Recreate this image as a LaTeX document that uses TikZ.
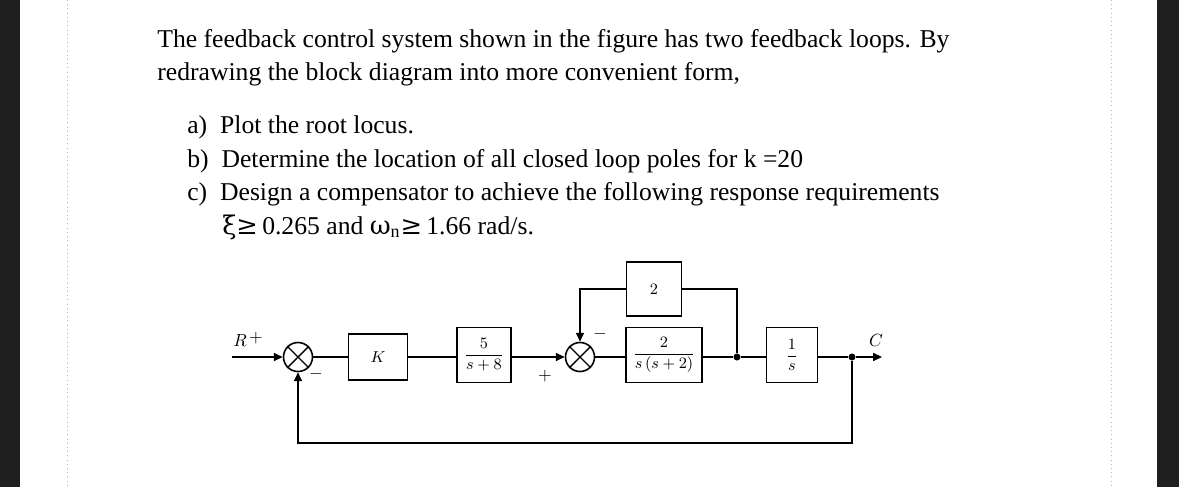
\documentclass[tikz,border=0pt]{standalone}
\usepackage{fontspec}
\setmainfont{Liberation Serif}
\newfontfamily\symf{DejaVu Serif}
\usetikzlibrary{arrows.meta}
\begin{document}
\begin{tikzpicture}[x=0.02cm,y=-0.02cm,
  txt/.style={anchor=base west,inner sep=0pt,font=\fontsize{14.6}{17}\selectfont},
  blk/.style={draw,line width=0.9pt,inner sep=0pt,font=\fontsize{9.5}{11}\selectfont},
  sumj/.style={draw,circle,line width=0.9pt,minimum size=0.58cm,inner sep=0pt},
  wire/.style={line width=0.8pt},
  arr/.style={wire,-{Triangle[length=5pt,width=4.5pt]}},
  lbl/.style={font=\fontsize{10}{11}\selectfont,inner sep=0pt},
  dotn/.style={circle,fill,inner sep=0pt,minimum size=4pt}]
\useasboundingbox (0,0) rectangle (1179,487);
\fill[black!88] (0,0) rectangle (20,487);
\fill[black!88] (1157,0) rectangle (1179,487);
\draw[black!30,dotted] (67,0) -- (67,487);
\draw[black!30,dotted] (1111,0) -- (1111,487);
% text
\node[txt] (t1) at (157,47) {The feedback control system shown in the figure has two feedback loops. By};
\node[txt] (t2) at (157,80) {redrawing the block diagram into more convenient form,};
\node[txt] (t3) at (187,133) {a)\ \ Plot the root locus.};
\node[txt] (t4) at (187,167) {b)\ \ Determine the location of all closed loop poles for k =20};
\node[txt] (t5) at (187,200) {c)\ \ Design a compensator to achieve the following response requirements};
\node[txt] (t6) at (222,234) {{\symf ξ}{\symf ≥}\,0.265 and {\symf ω}\textsubscript{n}{\symf ≥}\,1.66 rad/s.};
% diagram
\node[sumj] (s1) at (298,357) {};
\draw[wire] (s1.45)--(s1.225) (s1.135)--(s1.315);
\node[sumj] (s2) at (580,357) {};
\draw[wire] (s2.45)--(s2.225) (s2.135)--(s2.315);
\node[blk,minimum width=1.18cm,minimum height=0.92cm] (K) at (378,357) {$K$};
\node[blk,minimum width=1.08cm,minimum height=1.1cm] (G1) at (484,355) {$\displaystyle\frac{5}{s+8}$};
\node[blk,minimum width=1.1cm,minimum height=1.08cm] (H) at (654,289) {$2$};
\node[blk,minimum width=1.52cm,minimum height=1.1cm] (G2) at (664,355) {$\displaystyle\frac{2}{s\,(s+2)}$};
\node[blk,minimum width=1.02cm,minimum height=1.1cm] (G3) at (792,355) {$\displaystyle\frac{1}{s}$};
\node[dotn] (j1) at (737,357) {};
\node[dotn] (j2) at (852,357) {};
\coordinate (rin) at (232,357);
\coordinate (cout) at (882,357);
\coordinate (fb) at (852,443);
\node[lbl] at (240,340) {$R$};
\node[lbl] at (256,338) {$+$};
\node[lbl] at (316,374) {$-$};
\node[lbl] at (600,334) {$-$};
\node[lbl] at (545,376) {$+$};
\node[lbl] at (876,340) {$C$};
\draw[arr] (rin) -- (s1.west);
\draw[wire] (s1.east) -- (K.west);
\draw[wire] (K.east) -- (G1.west |- K.east);
\draw[arr] (G1.east |- s2.west) -- (s2.west);
\draw[wire] (s2.east) -- (G2.west |- s2.east);
\draw[wire] (G2.east |- j1) -- (j1) -- (G3.west |- j1);
\draw[wire] (G3.east |- j2) -- (j2);
\draw[arr] (j2) -- (cout);
\draw[wire] (j1) |- (H.east);
\draw[arr] (H.west) -| (s2.north);
\draw[arr] (j2) -- (fb) -| (s1.south);
\end{tikzpicture}
\end{document}
